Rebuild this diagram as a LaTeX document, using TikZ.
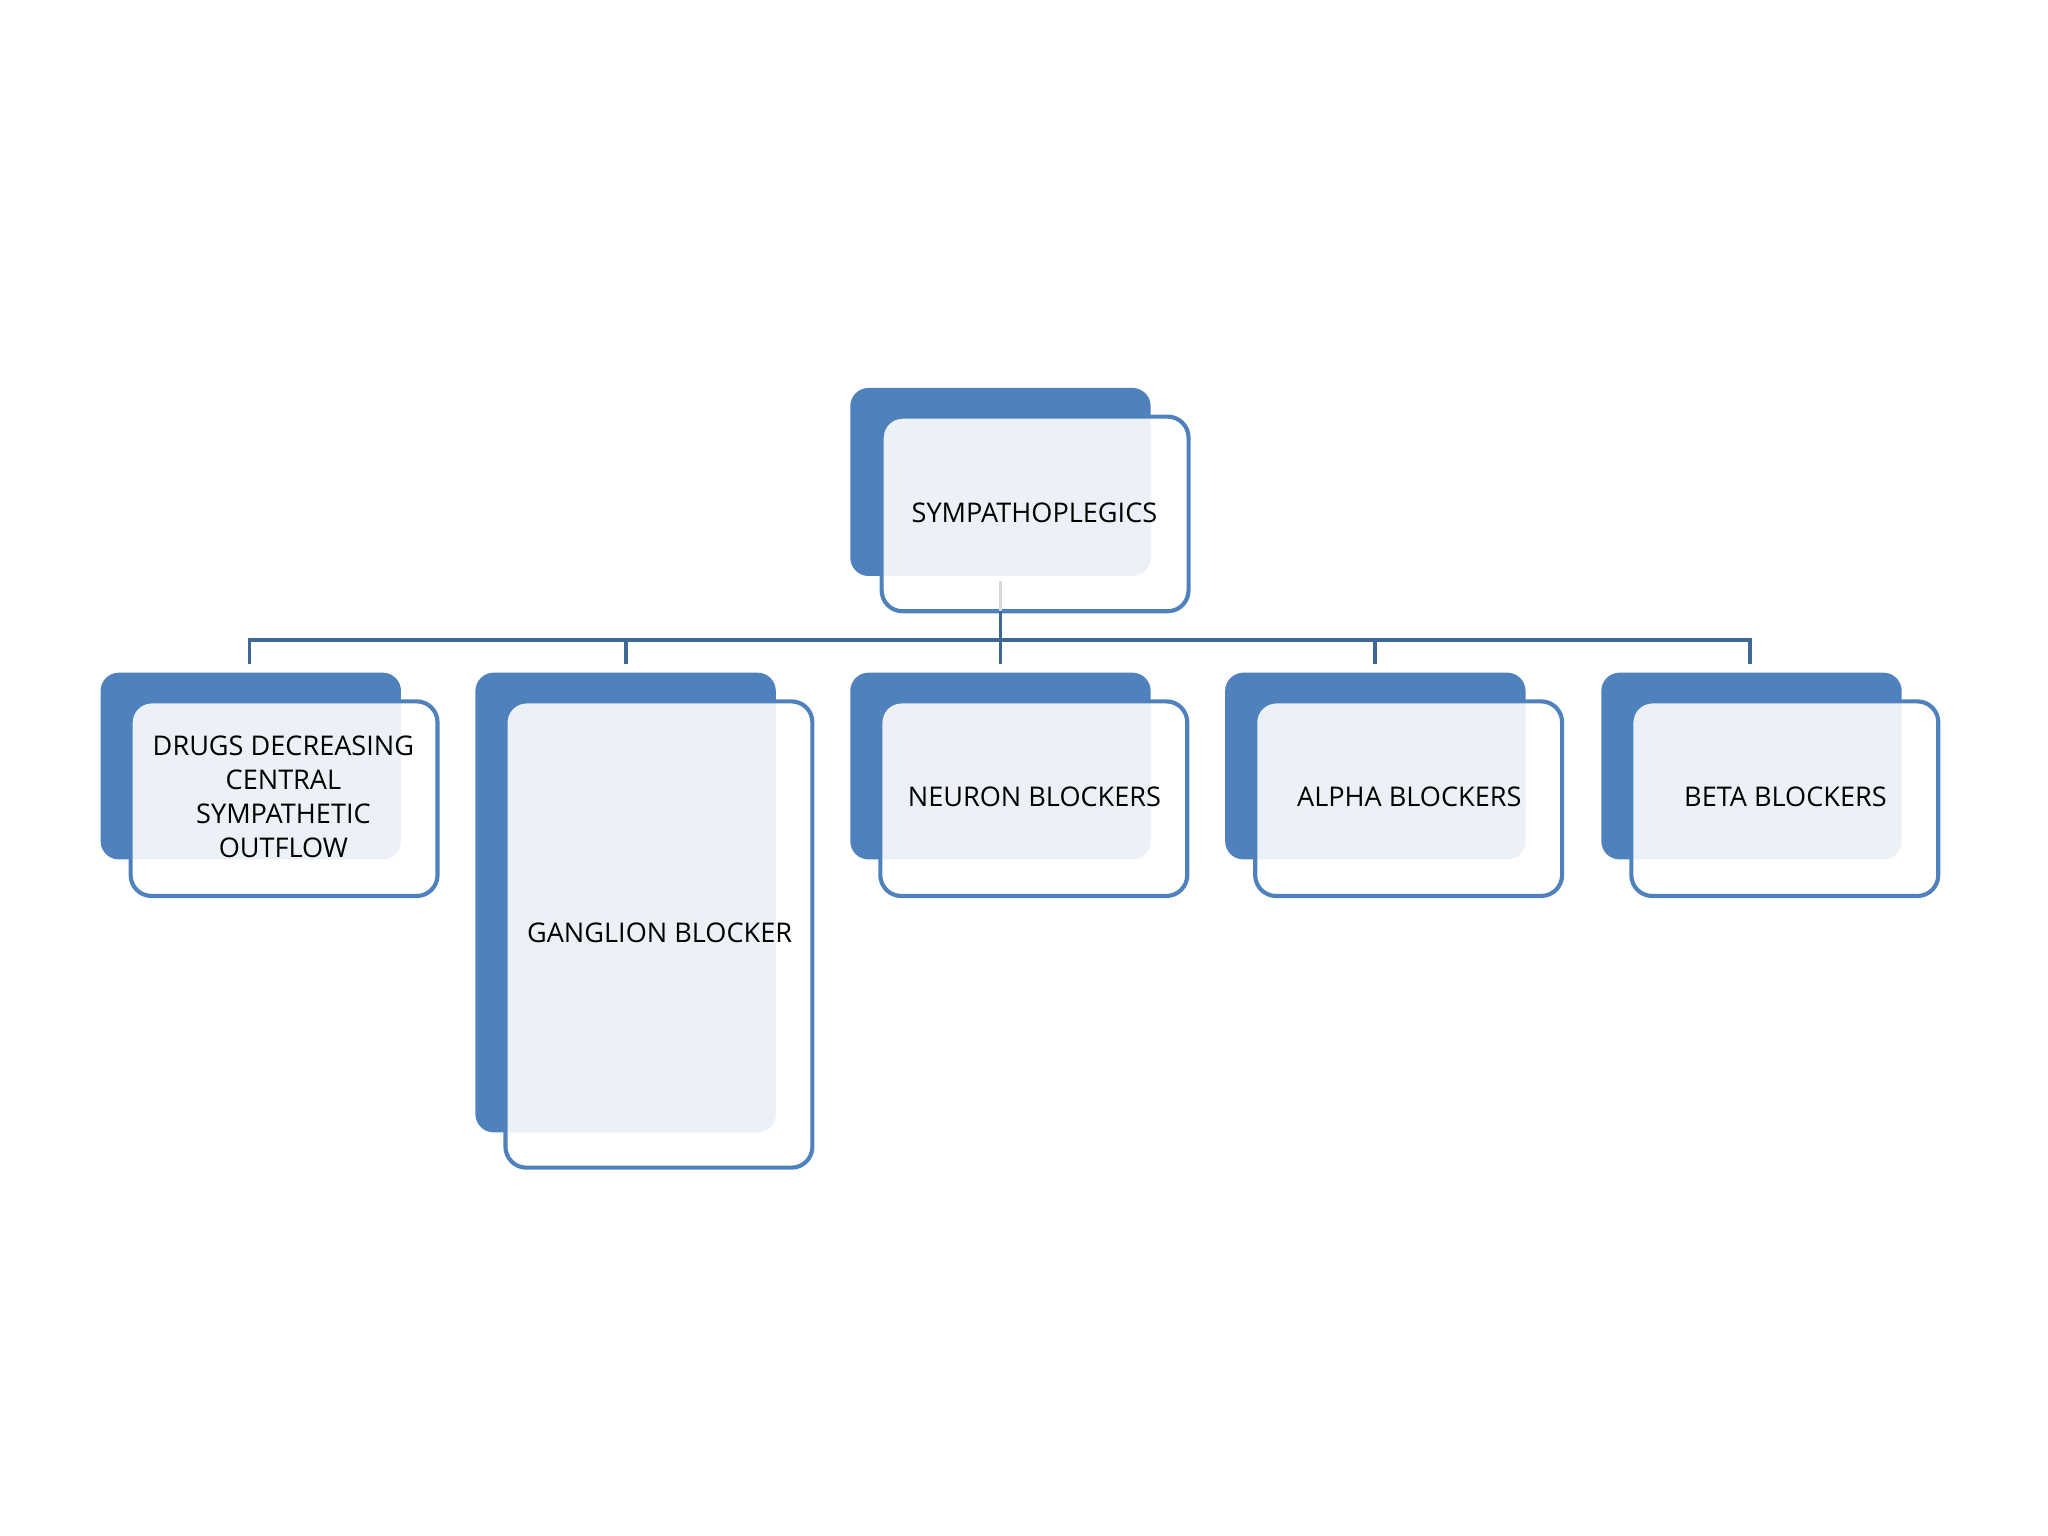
\documentclass[tikz,border=0pt]{standalone}
\usepackage{fontspec}
\setmainfont{Open Sans}
\definecolor{acc}{HTML}{4F81BD}
\definecolor{conn}{HTML}{3D6898}
\tikzset{
 back/.style={fill=acc,rounded corners=0.14cm},
 front/.style={draw=acc,line width=0.9pt,fill=white,fill opacity=0.89,rounded corners=0.16cm},
 lbl/.style={font=\fontsize{5.9pt}{7.4pt}\selectfont,align=center,text=black},
 con/.style={draw=conn,line width=0.85pt}
}
\begin{document}
\begin{tikzpicture}[x=0.01cm,y=-0.01cm]
\useasboundingbox (0,0) rectangle (1568,1176);
\newcommand{\mybox}[8]{% name, bx1,by1,bx2,by2, fx1,fy1... 
}
% root
\fill[back] (651,297) rectangle (881,441);
\draw[front] (675,319) rectangle (910,468);
\node[lbl] (root) at (792,393) {SYMPATHOPLEGICS};
\coordinate (rb) at (766,445);
\coordinate (bar) at (766,490);
% children
\foreach \x/\bh/\fh in {77/658/686,364/867/894,651/658/686,938/658/686,1226/658/686}{
 \fill[back] (\x,515) rectangle (\x+230,\bh);
 \draw[front] (\x+23,537) rectangle (\x+258,\fh);
}
\node[lbl] (c1) at (217,610) {DRUGS DECREASING\\CENTRAL\\SYMPATHETIC\\OUTFLOW};
\node[lbl] (c2) at (505,714) {GANGLION BLOCKER};
\node[lbl] (c3) at (792,610) {NEURON BLOCKERS};
\node[lbl] (c4) at (1079,610) {ALPHA BLOCKERS};
\node[lbl] (c5) at (1367,610) {BETA BLOCKERS};
\coordinate (t1) at (191,508);\coordinate (t2) at (479,508);\coordinate (t3) at (766,508);\coordinate (t4) at (1053,508);\coordinate (t5) at (1340,508);
\draw[draw=gray!30,line width=0.85pt] (rb) -- (766,468);
\draw[con] (766,468) -- (bar);
\draw[con] (t1) |- (bar) -| (t5);
\draw[con] (t2) -- (479,490);
\draw[con] (t3) -- (bar);
\draw[con] (t4) -- (1053,490);
\end{tikzpicture}
\end{document}
